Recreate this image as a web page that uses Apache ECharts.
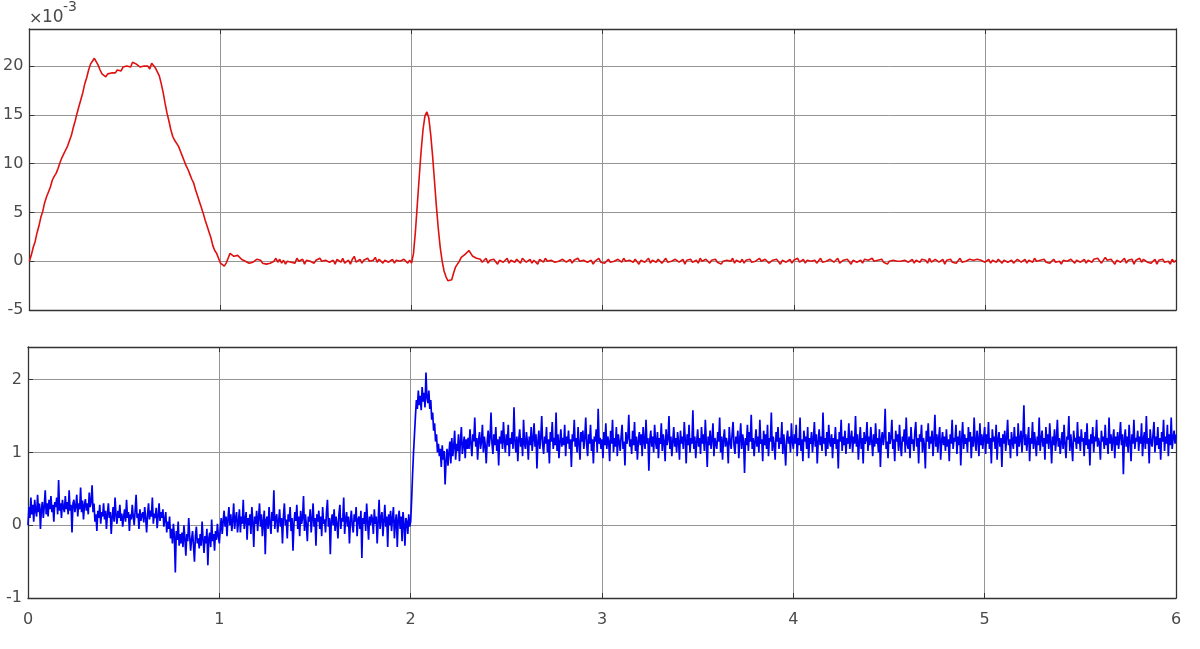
<!DOCTYPE html>
<html>
<head>
<meta charset="utf-8">
<script src="https://cdn.jsdelivr.net/npm/echarts@6/dist/echarts.min.js"></script>
<style>
html,body{margin:0;padding:0;background:#fff;}
#chart{width:1200px;height:649px;}
</style>
</head>
<body>
<div id="chart"></div>
<script>
// Sampling steps (seconds)
const topStep = 0.01;
const bottomStep = 0.005;

// Top signal, units of 1e-3, t = 0 .. 6 s
const topValues = [
  0, 0.6, 1.4, 2.0, 2.9, 3.6, 4.5, 5.1, 6.0, 6.6,
  7.1, 7.6, 8.3, 8.7, 9.0, 9.5, 10.1, 10.6, 11.0, 11.4,
  11.8, 12.0, 12.9, 13.7, 14.4, 15.2, 15.9, 16.6, 17.3, 18.2,
  18.8, 19.6, 20.2, 20.4, 20.8, 20.6, 20.1, 19.6, 19.2, 19.0,
  18.9, 19.2, 19.0, 19.3, 19.4, 19.3, 19.6, 19.7, 19.5, 19.9,
  19.8, 20.0, 20.1, 19.9, 20.4, 20.3, 20.2, 20.3, 19.9, 19.8,
  20.0, 19.8, 20.0, 19.7, 20.3, 20.2, 19.8, 19.6, 19.0, 18.2,
  17.3, 16.2, 15.2, 14.4, 13.5, 12.8, 12.4, 12.2, 11.8, 11.3,
  10.8, 10.3, 9.8, 9.4, 8.9, 8.4, 8.0, 7.3, 6.7, 6.1,
  5.5, 4.9, 4.2, 3.6, 3.0, 2.4, 1.6, 1.1, 0.8, 0.3,
  -0.2, -0.4, -0.5, -0.2, 0.3, 0.8, 0.6, 0.5, 0.7, 0.6,
  0.4, 0.2, 0.3, 0.0, 0.1, -0.2, -0.3, -0.1, 0.0,
  0.2, 0.4, 0.1, -0.2, 0.0, -0.3, -0.5, -0.2, -0.4, 0.0, 0.3, -0.1, 0.2, -0.2, 0.1, -0.3, 0.0, 0.2, -0.1, 0.1,
  -0.2, 0.3, 0.0, -0.1, 0.2, -0.3, 0.1, -0.1, 0.0, 0.2, -0.2, 0.1, -0.1, 0.3, 0.0, -0.2, 0.1, 0.2, -0.1, 0.0,
  0.1, -0.3, 0.2, 0.0, -0.1, 0.3, -0.2, 0.0, 0.1, -0.3, 0.2, 0.5, -0.1, 0.0, 0.2, -0.2, 0.1, -0.1, 0.3, 0.0,
  -0.2, 0.1, 0.4, -0.1, 0.2, 0.0, -0.2, 0.1, 0.3, -0.1, 0.0, 0.2, -0.2, 0.1, 0.3, 0.0, -0.1, 0.2, 0.0, -0.2, 0.1,
  -0.2, 0.8, 3.0, 5.8, 8.6, 11.3, 13.5, 14.9, 15.3, 14.7,
  13.0, 10.8, 8.2, 5.6, 3.3, 1.4, 0.0, -1.0, -1.6, -2.0,
  -1.8, -1.9, -1.2, -0.6, -0.3, 0.0, 0.4, 0.2, 0.7, 0.8,
  1.1, 0.9, 0.5, 0.7, 0.3, 0.1,
  0.2, -0.1, 0.0, 0.3, -0.2, 0.1, -0.1, 0.2, 0.0, -0.3, 0.1, 0.2, -0.1, 0.0, 0.3, -0.2, 0.1, 0.0, -0.1, 0.2,
  0.0, -0.2, 0.3, 0.1, -0.1, 0.0, 0.2, -0.2, 0.1, 0.0, -0.3, 0.2, 0.1, -0.1, 0.3, 0.0, -0.2, 0.1, 0.2, -0.1,
  0.1, 0.0, -0.2, 0.2, 0.4, -0.1, 0.0, 0.2, -0.2, 0.1, -0.1, 0.3, 0.0, -0.2, 0.1, 0.2, -0.1, 0.0, 0.1, -0.3,
  0.0, 0.2, 0.3, -0.1, 0.1, -0.2, 0.0, 0.2, -0.1, 0.1, 0.0, -0.2, 0.2, 0.1, -0.1, 0.3, 0.0, -0.2, 0.1, 0.0,
  -0.1, 0.2, 0.0, -0.3, 0.1, 0.2, -0.1, 0.0, 0.3, -0.2, 0.1, 0.0, -0.1, 0.2, 0.1, -0.2, 0.0, 0.3, -0.1, 0.1,
  0.0, -0.2, 0.2, 0.1, -0.1, 0.0, 0.2, -0.3, 0.1, 0.0, 0.2, -0.1, 0.0, 0.1, -0.2, 0.3, 0.0, -0.1, 0.2, 0.0,
  -0.2, 0.1, 0.0, 0.2, -0.1, 0.1, -0.3, 0.0, 0.2, 0.1, -0.1, 0.0, 0.3, -0.2, 0.1, 0.0, -0.1, 0.2, -0.2, 0.1,
  0.0, 0.2, -0.1, 0.1, 0.0, -0.2, 0.3, 0.0, -0.1, 0.2, 0.1, -0.2, 0.0, 0.1, -0.1, 0.2, 0.0, -0.3, 0.1, 0.2,
  -0.1, 0.0, 0.2, -0.2, 0.1, 0.0, 0.3, -0.1, 0.0, 0.2, -0.2, 0.1, -0.1, 0.0, 0.2, 0.1, -0.2, 0.0, 0.3, -0.1,
  0.1, 0.0, -0.2, 0.2, 0.0, -0.1, 0.1, 0.3, -0.2, 0.0, 0.1, -0.1, 0.2, 0.0, -0.3, 0.1, 0.2, -0.1, 0.0, 0.1,
  -0.2, 0.2, 0.0, 0.1, -0.1, 0.3, 0.0, -0.2, 0.1, 0.0, 0.2, -0.1, 0.1, -0.3, 0.0, 0.2, 0.1, -0.1, 0.0, 0.2,
  0.0, -0.2, 0.1, 0.3, -0.1, 0.0, 0.2, -0.2, 0.1, 0.0, -0.1, 0.2, 0.0, 0.1, -0.2, 0.3, -0.1, 0.0, 0.2, 0.1,
  -0.1, 0.0, 0.2, -0.3, 0.1, 0.0, 0.2, -0.1, 0.1, -0.2, 0.0, 0.3, -0.1, 0.1, 0.0, -0.2, 0.2, 0.0, 0.1, 0.3,
  0.2, 0.4, 0.1, 0.3, -0.1, 0.0, 0.2, -0.2, 0.1, 0.0, -0.1, 0.2, 0.0, -0.2, 0.1, 0.2, -0.1, 0.0, 0.1, -0.2,
  0.0, 0.2, 0.1, -0.1, 0.0, 0.2, -0.2, 0.1, 0.0, -0.1, 0.3, 0.0, -0.2, 0.1, 0.0, 0.2, -0.1, 0.1, -0.2, 0.0,
  0.2, -0.1, 0.1, 0.0, -0.3, 0.1, 0.2, 0.0, -0.1, 0.2, 0.0, -0.2, 0.1, 0.3, -0.1, 0.0, 0.2, -0.2, 0.1, 0.0,
  -0.1, 0.2, 0.0, 0.3, 0.1, -0.2, 0.0, 0.4, 0.1, -0.1, 0.2, 0.0, -0.3, 0.1, 0.2, -0.1, 0.0, 0.3, -0.2, 0.1,
  0.0, 0.2, -0.3, 0.1, 0.0, 0.3, -0.1, 0.2, 0.4, -0.1, 0.1, -0.2, 0.0, 0.2, -0.3, 0.1, 0.0, 0.2, -0.1, 0.1,
  0.0, -0.3, 0.2, -0.1, 0.1
];

// Bottom signal, t = 0 .. 6 s, one row = 0.1 s
const bottomValues = [
  0.00, 0.25, 0.10, 0.38, 0.15, 0.28, 0.05, 0.35, 0.20, 0.12, 0.42, 0.18, 0.30, -0.05, 0.22, 0.32, 0.10, 0.26, 0.48, 0.15,
  0.30, 0.12, 0.35, 0.22, 0.40, 0.18, 0.28, 0.05, 0.32, 0.25, 0.38, 0.15, 0.62, 0.20, 0.30, 0.10, 0.35, 0.24, 0.18, 0.40,
  0.22, 0.32, 0.15, 0.48, 0.20, 0.28, -0.10, 0.30, 0.35, 0.18, 0.26, 0.42, 0.12, 0.30, 0.22, 0.52, 0.18, 0.34, 0.08, 0.28,
  0.36, 0.20, 0.30, 0.15, 0.45, 0.25, 0.32, 0.55, 0.18, 0.30, 0.05, 0.15, -0.08, 0.20, 0.10, 0.28, 0.02, 0.18, 0.12, 0.30,
  0.08, 0.20, -0.05, 0.15, 0.30, 0.10, 0.18, -0.12, 0.12, 0.25, 0.05, 0.38, 0.14, 0.02, 0.20, 0.10, 0.28, 0.06, 0.16, -0.02,
  0.12, 0.22, 0.05, 0.35, 0.10, 0.18, -0.08, 0.15, 0.08, 0.28, 0.12, 0.00, 0.20, 0.42, 0.10, 0.16, -0.05, 0.22, 0.06, 0.14,
  0.18, 0.04, 0.25, 0.10, -0.10, 0.15, 0.30, 0.08, 0.20, 0.12, 0.38, 0.02, 0.16, 0.10, 0.24, -0.04, 0.12, 0.30, 0.06, 0.18,
  0.10, 0.22, -0.02, 0.08, 0.18, -0.10, 0.05, -0.05, 0.12, -0.18, -0.05, -0.25, 0.02, -0.15, -0.65, -0.08, -0.20, 0.05, -0.28, -0.12,
  -0.25, -0.10, -0.30, 0.00, -0.18, -0.42, -0.12, -0.22, 0.10, -0.15, -0.35, -0.20, -0.08, -0.28, -0.50, -0.15, -0.02, -0.25, -0.18, -0.32,
  -0.12, -0.28, 0.05, -0.20, -0.38, -0.15, -0.25, -0.05, -0.55, -0.18, -0.10, -0.30, 0.08, -0.22, -0.12, -0.35, -0.08, -0.20, 0.02, -0.15,
  -0.25, -0.05, 0.10, -0.12, 0.05, 0.20, -0.02, 0.12, -0.15, 0.08, 0.25, 0.00, 0.15, -0.08, 0.06, 0.30, -0.05, 0.10, 0.18, -0.10,
  0.05, 0.22, -0.10, 0.12, 0.02, 0.35, -0.05, 0.08, 0.18, -0.20, 0.10, 0.00, 0.15, -0.12, 0.25, 0.05, -0.30, 0.12, 0.02, 0.20,
  -0.08, 0.10, 0.30, -0.02, 0.15, -0.15, 0.05, 0.20, -0.40, 0.08, 0.12, -0.05, 0.25, 0.02, -0.12, 0.18, 0.06, 0.48, -0.05, 0.10,
  0.15, -0.10, 0.05, 0.22, -0.02, 0.10, -0.25, 0.12, 0.30, 0.00, 0.08, -0.18, 0.15, 0.05, 0.25, -0.08, 0.10, -0.35, 0.02, 0.18,
  0.06, 0.28, -0.05, 0.12, -0.15, 0.20, 0.02, 0.10, 0.40, -0.08, 0.15, 0.00, -0.22, 0.12, 0.05, 0.22, -0.10, 0.08, 0.30, -0.02,
  0.10, -0.28, 0.15, 0.05, 0.20, -0.05, 0.12, -0.15, 0.25, 0.02, 0.08, -0.10, 0.18, 0.35, -0.02, 0.10, -0.40, 0.06, 0.15, 0.00,
  0.22, -0.08, 0.12, 0.02, -0.18, 0.15, 0.28, -0.05, 0.10, 0.05, 0.38, -0.12, 0.08, 0.18, -0.02, 0.12, -0.25, 0.05, 0.20, 0.00,
  -0.10, 0.15, 0.05, 0.25, -0.15, 0.08, 0.12, -0.05, 0.20, -0.45, 0.10, 0.02, 0.18, -0.08, 0.30, 0.05, -0.20, 0.12, 0.00, 0.15,
  0.08, -0.12, 0.22, 0.02, 0.12, -0.25, 0.05, 0.35, -0.05, 0.10, 0.18, -0.15, 0.06, 0.28, -0.02, 0.12, -0.30, 0.15, 0.00, 0.20,
  -0.08, 0.10, 0.25, -0.18, 0.05, 0.15, -0.30, 0.08, 0.20, -0.05, 0.12, -0.22, 0.18, 0.02, -0.28, 0.10, 0.05, -0.12, 0.15, -0.02,
  0.05, 0.35, 0.70, 1.00, 1.25, 1.50, 1.72, 1.60, 1.85, 1.65, 1.78, 1.58, 1.90, 1.70, 1.82, 1.62, 2.10, 1.75, 1.68, 1.85,
  1.60, 1.72, 1.45, 1.55, 1.30, 1.40, 1.15, 1.25, 1.00, 1.12, 0.95, 1.05, 0.80, 1.10, 0.90, 1.02, 0.56, 0.88, 1.05, 0.82,
  1.00, 1.15, 0.85, 1.20, 0.95, 1.08, 1.30, 0.90, 1.12, 1.02, 1.25, 0.88, 1.15, 1.35, 0.98, 1.10, 1.22, 0.92, 1.18, 1.05,
  1.20, 1.05, 1.32, 1.12, 0.95, 1.25, 1.15, 1.48, 1.08, 1.20, 0.90, 1.18, 1.28, 1.05, 1.15, 1.38, 1.00, 1.22, 1.10, 0.85,
  1.15, 1.30, 1.08, 1.20, 1.55, 1.12, 0.98, 1.25, 1.10, 1.35, 1.02, 1.18, 0.82, 1.22, 1.12, 1.30, 1.05, 1.42, 1.15, 1.00,
  1.25, 1.10, 1.38, 0.95, 1.20, 1.12, 1.28, 1.05, 1.62, 1.15, 1.00, 1.22, 0.88, 1.18, 1.32, 1.08, 1.20, 0.95, 1.45, 1.12,
  1.05, 1.28, 1.15, 0.90, 1.22, 1.10, 1.35, 1.02, 1.18, 1.40, 1.08, 1.25, 0.78, 1.15, 1.30, 1.05, 1.20, 1.50, 1.10, 0.98,
  1.22, 1.12, 1.35, 1.00, 1.18, 0.85, 1.28, 1.15, 1.42, 1.05, 1.20, 1.10, 1.55, 1.02, 1.25, 0.92, 1.15, 1.32, 1.08, 1.20,
  1.10, 1.38, 0.95, 1.22, 1.12, 1.30, 1.05, 1.18, 0.80, 1.25, 1.15, 1.45, 1.08, 1.20, 1.00, 1.35, 1.12, 0.90, 1.28, 1.15,
  1.30, 1.05, 1.20, 1.48, 1.10, 0.95, 1.25, 1.12, 1.38, 1.02, 1.18, 0.85, 1.22, 1.15, 1.32, 1.00, 1.60, 1.12, 1.20, 1.05,
  1.18, 0.92, 1.28, 1.10, 1.40, 1.05, 1.22, 1.15, 0.88, 1.30, 1.12, 1.45, 1.00, 1.20, 1.08, 1.35, 0.95, 1.25, 1.15, 1.02,
  1.22, 1.38, 1.05, 1.15, 0.82, 1.28, 1.12, 1.20, 1.52, 1.08, 1.18, 0.98, 1.30, 1.10, 1.42, 1.02, 1.22, 0.90, 1.15, 1.28,
  1.10, 1.25, 0.95, 1.35, 1.15, 1.05, 1.45, 1.12, 1.20, 0.75, 1.18, 1.30, 1.08, 1.22, 1.00, 1.38, 1.15, 1.05, 1.28, 0.92,
  1.20, 1.12, 1.40, 1.02, 1.25, 1.15, 0.88, 1.32, 1.10, 1.18, 1.50, 1.05, 1.22, 0.95, 1.15, 1.35, 1.08, 1.20, 1.00, 1.28,
  1.15, 0.90, 1.30, 1.12, 1.22, 1.05, 1.42, 1.18, 0.85, 1.25, 1.10, 1.38, 1.00, 1.20, 1.12, 1.58, 1.05, 1.22, 0.92, 1.15,
  1.32, 1.08, 1.20, 0.98, 1.35, 1.12, 1.25, 1.02, 1.45, 1.15, 0.80, 1.22, 1.10, 1.30, 1.05, 1.18, 1.40, 0.95, 1.20, 1.12,
  1.05, 1.28, 1.15, 1.48, 1.00, 1.22, 0.90, 1.18, 1.32, 1.08, 1.20, 1.12, 0.85, 1.35, 1.15, 1.05, 1.25, 1.42, 1.10, 0.98,
  1.22, 1.12, 1.30, 0.92, 1.18, 1.40, 1.05, 1.25, 1.15, 0.72, 1.20, 1.10, 1.38, 1.02, 1.28, 1.15, 1.52, 1.05, 1.20, 0.95,
  1.15, 1.32, 1.08, 1.22, 1.00, 1.45, 1.12, 1.18, 0.88, 1.30, 1.10, 1.25, 1.05, 1.38, 0.95, 1.20, 1.15, 1.55, 1.02, 1.22,
  1.10, 0.90, 1.28, 1.15, 1.35, 1.05, 1.20, 1.12, 1.42, 0.98, 1.25, 1.08, 0.82, 1.18, 1.30, 1.12, 1.22, 1.00, 1.40, 1.15,
  1.05, 1.25, 1.12, 1.38, 0.95, 1.20, 1.10, 1.48, 1.02, 1.18, 0.88, 1.30, 1.15, 1.22, 1.05, 1.35, 0.92, 1.20, 1.12, 1.28,
  1.00, 1.18, 1.42, 1.08, 1.25, 0.85, 1.15, 1.32, 1.10, 1.22, 1.02, 1.55, 1.12, 1.20, 0.95, 1.28, 1.05, 1.38, 1.15, 1.08,
  1.25, 0.92, 1.20, 1.12, 1.35, 1.05, 1.18, 0.78, 1.28, 1.15, 1.45, 1.02, 1.22, 1.10, 1.30, 0.98, 1.20, 1.12, 1.40, 1.05,
  1.18, 1.30, 1.00, 1.22, 1.12, 1.50, 1.08, 1.25, 0.90, 1.15, 1.35, 1.05, 1.20, 0.85, 1.28, 1.12, 1.18, 1.42, 1.02, 1.22,
  1.10, 1.35, 1.15, 0.95, 1.25, 1.08, 1.40, 1.12, 1.20, 1.00, 1.32, 0.80, 1.18, 1.28, 1.10, 1.22, 1.60, 1.05, 1.15, 0.92,
  1.28, 1.12, 1.20, 1.45, 1.05, 1.18, 0.88, 1.30, 1.15, 1.25, 1.02, 1.38, 1.10, 0.95, 1.22, 1.15, 1.32, 1.00, 1.48, 1.12,
  1.05, 1.22, 0.92, 1.35, 1.12, 1.18, 1.02, 1.28, 1.42, 1.08, 1.20, 0.85, 1.25, 1.15, 1.38, 1.00, 1.20, 1.10, 0.78, 1.30,
  1.15, 1.40, 1.05, 1.22, 1.12, 1.30, 0.95, 1.18, 1.52, 1.08, 1.25, 1.00, 1.20, 1.35, 0.90, 1.15, 1.28, 1.10, 1.22, 1.02,
  1.32, 1.08, 1.18, 0.88, 1.25, 1.12, 1.45, 1.05, 1.20, 1.15, 1.38, 0.98, 1.22, 1.10, 1.30, 0.82, 1.18, 1.42, 1.05, 1.25,
  1.12, 1.20, 1.00, 1.35, 1.15, 1.28, 0.92, 1.22, 1.08, 1.48, 1.15, 1.02, 1.30, 1.18, 0.95, 1.40, 1.10, 1.25, 1.05, 1.20,
  1.35, 0.98, 1.25, 1.12, 1.42, 1.05, 1.20, 0.85, 1.32, 1.15, 1.22, 1.05, 1.38, 0.90, 1.18, 1.28, 1.08, 1.20, 0.80, 1.25,
  1.12, 1.30, 1.02, 1.20, 1.45, 1.10, 1.18, 0.92, 1.28, 1.15, 1.05, 1.35, 1.12, 1.22, 0.95, 1.40, 1.08, 1.18, 1.30, 1.00,
  1.22, 1.65, 1.10, 1.25, 1.02, 1.18, 1.35, 0.88, 1.20, 1.12, 1.42, 1.05, 1.28, 1.15, 0.95, 1.22, 1.10, 1.48, 1.02, 1.18,
  1.30, 1.08, 1.20, 0.90, 1.35, 1.12, 1.25, 1.05, 1.40, 1.15, 0.85, 1.22, 1.10, 1.32, 1.02, 1.18, 1.45, 1.08, 1.20, 0.98,
  1.15, 1.28, 1.05, 1.38, 1.12, 0.92, 1.22, 1.18, 1.50, 1.02, 1.25, 1.10, 0.88, 1.30, 1.15, 1.20, 1.05, 1.42, 1.12, 1.22,
  1.02, 1.32, 1.15, 1.20, 0.95, 1.28, 1.10, 1.40, 1.05, 1.18, 0.82, 1.25, 1.12, 1.35, 1.00, 1.22, 1.15, 1.45, 1.08, 1.20,
  1.12, 0.90, 1.30, 1.15, 1.22, 1.05, 1.38, 1.10, 1.20, 0.98, 1.48, 1.12, 1.25, 1.02, 1.18, 1.32, 0.92, 1.22, 1.10, 1.28,
  1.05, 1.20, 1.42, 1.10, 1.25, 0.70, 1.18, 1.32, 1.08, 1.22, 1.00, 1.38, 1.15, 0.88, 1.25, 1.12, 1.45, 1.05, 1.20, 1.15,
  1.30, 1.02, 1.22, 1.12, 1.40, 0.95, 1.18, 1.28, 1.05, 1.50, 1.12, 1.20, 0.85, 1.32, 1.15, 1.08, 1.25, 1.42, 1.00, 1.22,
  1.10, 1.35, 1.05, 1.20, 0.90, 1.28, 1.15, 1.45, 1.02, 1.22, 1.12, 1.38, 0.95, 1.25, 1.10, 1.48, 1.05, 1.20, 1.30, 1.12,
  1.25
];

// Axis ticks
const xTicks = [0, 1, 2, 3, 4, 5, 6];
const topYTicks = [-5, 0, 5, 10, 15, 20];
const bottomYTicks = [-1, 0, 1, 2];
const topExponentBase = '10';
const topExponent = '-3';

const topData = topValues.map((v, i) => [+(i * topStep).toFixed(3), v]);
const bottomData = bottomValues.map((v, i) => [+(i * bottomStep).toFixed(3), v]);

const FONT = '"DejaVu Sans", "Liberation Sans", sans-serif';
const TXT = '#4a4a4a';
const labelStyle = { color: TXT, fontSize: 16, fontFamily: FONT };
const gridLine = { show: true, lineStyle: { color: '#959595', width: 1 } };
const boxLine = { show: true, onZero: false, lineStyle: { color: '#333', width: 1.3 } };
const tickStyle = { show: true, inside: true, length: 5, lineStyle: { color: '#333' } };

function xAxisCfg(gridIndex, showLabels) {
  return {
    type: 'value', gridIndex, min: xTicks[0], max: xTicks[xTicks.length - 1], interval: 1,
    axisLine: boxLine, axisTick: tickStyle,
    axisLabel: Object.assign({ show: showLabels, margin: 14 }, labelStyle),
    splitLine: gridLine
  };
}
function yAxisCfg(gridIndex, min, max, interval) {
  return {
    type: 'value', gridIndex, min, max, interval,
    axisLine: boxLine, axisTick: tickStyle,
    axisLabel: Object.assign({ margin: 6, showMaxLabel: false, padding: [8, 0, 0, 0] }, labelStyle),
    splitLine: gridLine
  };
}
function rightYAxis(gridIndex, min, max, interval) {
  return {
    type: 'value', gridIndex, position: 'right', min, max, interval,
    axisLine: boxLine, axisTick: tickStyle,
    axisLabel: { show: false }, splitLine: { show: false }
  };
}
function topXAxis(gridIndex) {
  return {
    type: 'value', gridIndex, position: 'top', min: xTicks[0], max: xTicks[xTicks.length - 1], interval: 1,
    axisLine: boxLine, axisTick: tickStyle,
    axisLabel: { show: false }, splitLine: { show: false }
  };
}

const chart = echarts.init(document.getElementById('chart'), null, { renderer: 'canvas' });
chart.setOption({
  animation: false,
  backgroundColor: '#fff',
  grid: [
    { left: 28, top: 29, right: 24, height: 281 },
    { left: 28, top: 347, right: 24, height: 251 }
  ],
  xAxis: [xAxisCfg(0, false), xAxisCfg(1, true), topXAxis(0), topXAxis(1)],
  yAxis: [
    yAxisCfg(0, topYTicks[0], 23.8, 5),
    yAxisCfg(1, bottomYTicks[0], 2.45, 1),
    rightYAxis(0, topYTicks[0], 23.8, 5),
    rightYAxis(1, bottomYTicks[0], 2.45, 1)
  ],
  graphic: [
    { type: 'text', left: 29, top: 11, style: { text: '×', fontSize: 16, fill: TXT, fontFamily: FONT } },
    { type: 'text', left: 42, top: 9, style: { text: topExponentBase, fontSize: 17, fill: TXT, fontFamily: FONT } },
    { type: 'text', left: 63, top: 0, style: { text: topExponent, fontSize: 14, fill: TXT, fontFamily: FONT } }
  ],
  series: [
    { type: 'line', xAxisIndex: 0, yAxisIndex: 0, data: topData, showSymbol: false, symbol: 'none',
      lineStyle: { color: '#e01010', width: 1.6 }, silent: true },
    { type: 'line', xAxisIndex: 1, yAxisIndex: 1, data: bottomData, showSymbol: false, symbol: 'none',
      lineStyle: { color: '#0000f0', width: 1.7 }, silent: true }
  ]
});
</script>
</body>
</html>
